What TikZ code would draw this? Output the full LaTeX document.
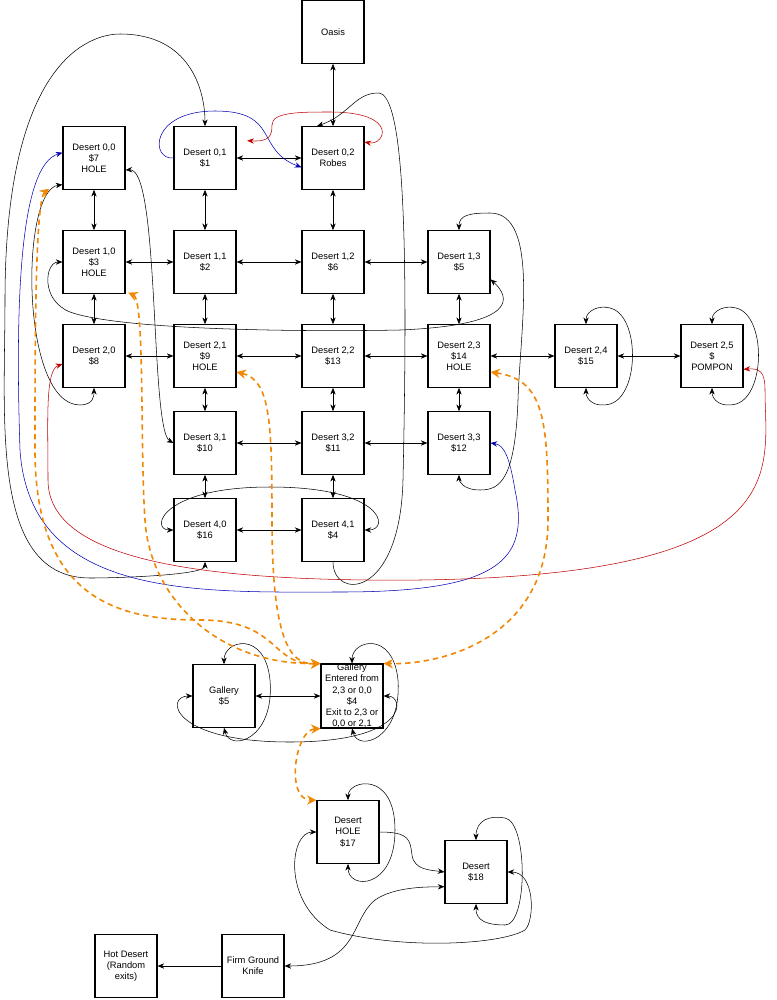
\documentclass[tikz,border=0pt]{standalone}
\usepackage{fontspec}
\setmainfont{Liberation Sans}
\usetikzlibrary{arrows.meta}
\definecolor{org}{HTML}{F08705}
\begin{document}
\begin{tikzpicture}[x=0.75pt,y=-0.75pt,
  box/.style={draw,thick,minimum width=46.5pt,minimum height=47pt,inner sep=0pt,align=center,font=\fontsize{7}{8.4}\selectfont},
  ar/.style={-{Stealth[length=5pt,width=4pt]}},
  dar/.style={{Stealth[length=5pt,width=4pt]}-{Stealth[length=5pt,width=4pt]}},
  od/.style={draw=org,line width=1.2pt,dash pattern=on 4pt off 3pt},
  oar/.style={od,{Stealth[length=7pt,width=7pt]}-{Stealth[length=7pt,width=7pt]}},
  bl/.style={draw=blue!70!black},
  rd/.style={draw=red!75!black}]
\useasboundingbox (0,0) rectangle (777,1000);
\node[box] (oasis) at (333,32) {Oasis};
\node[box] (d00) at (94,158) {Desert 0,0\\\$7\\HOLE};
\node[box] (d01) at (205,158) {Desert 0,1\\\$1};
\node[box] (d02) at (333,158) {Desert 0,2\\Robes};
\node[box] (d10) at (94,262) {Desert 1,0\\\$3\\HOLE};
\node[box] (d11) at (205,262) {Desert 1,1\\\$2};
\node[box] (d12) at (333,262) {Desert 1,2\\\$6};
\node[box] (d13) at (459,262) {Desert 1,3\\\$5};
\node[box] (d20) at (94,356) {Desert 2,0\\\$8};
\node[box] (d21) at (205,356) {Desert 2,1\\\$9\\HOLE};
\node[box] (d22) at (333,356) {Desert 2,2\\\$13};
\node[box] (d23) at (459,356) {Desert 2,3\\\$14\\HOLE};
\node[box] (d24) at (586,356) {Desert 2,4\\\$15};
\node[box] (d25) at (712,356) {Desert 2,5\\\$\\POMPON};
\node[box] (d31) at (205,443) {Desert 3,1\\\$10};
\node[box] (d32) at (333,443) {Desert 3,2\\\$11};
\node[box] (d33) at (459,443) {Desert 3,3\\\$12};
\node[box] (d40) at (205,530) {Desert 4,0\\\$16};
\node[box] (d41) at (333,530) {Desert 4,1\\\$4};
\node[box] (g1) at (224,696) {Gallery\\\$5};
\node[box] (g2) at (352,696) {Gallery\\Entered from\\2,3 or 0,0\\\$4\\Exit to 2,3 or\\0,0 or 2,1};
\node[box] (h17) at (348,832) {Desert\\HOLE\\\$17};
\node[box] (d18) at (476,872) {Desert\\\$18};
\node[box] (firm) at (253,966) {Firm Ground\\Knife};
\node[box] (hot) at (126,966) {Hot Desert\\(Random\\exits)};
% straight
\foreach \a/\b in {oasis/d02,d00/d10,d10/d20,d01/d11,d02/d12,d11/d21,d12/d22,d13/d23,d21/d31,d22/d32,d23/d33,d31/d40,d32/d41}
  \draw[dar] (\a.south) -- (\b.north);
\foreach \a/\b in {d01/d02,d10/d11,d11/d12,d12/d13,d20/d21,d21/d22,d22/d23,d23/d24,d24/d25,d31/d32,d32/d33,d40/d41,g1/g2}
  \draw[dar] (\a.east) -- (\b.west);
\draw[ar] (firm.west) -- (hot.east);
% curves
\draw[dar] (d40.south) .. controls (205,575) and (120,578) .. (90,578) .. controls (-10,578) and (5,420) .. (5,300) .. controls (5,60) and (90,34) .. (120,34) .. controls (190,34) and (205,90) .. (d01.north);
\draw[ar,bl] (d01.west) .. controls (150,160) and (150,111) .. (215,111) .. controls (280,111) and (255,150) .. ([yshift=-7pt]d02.west);
\draw[dar,rd] ([xshift=8pt,yshift=13pt]d01.east) .. controls (270,142) and (272,135) .. (272,125) .. controls (272,112) and (300,112) .. (330,112) .. controls (400,112) and (385,146) .. ([yshift=12pt]d02.east);
\draw[ar] (d41.south) .. controls (333,600) and (400,600) .. (403,480) .. controls (408,250) and (405,92) .. (378,93) .. controls (355,93) and (349,115) .. ([xshift=-12pt]d02.north);
\draw[dar] (d10.west) .. controls (45,262) and (40,300) .. (70,312) .. controls (120,330) and (300,332) .. (400,330) .. controls (520,325) and (510,297) .. ([yshift=-13pt]d13.east);
\draw[dar] ([yshift=-9pt]d00.east) .. controls (160,168) and (150,430) .. (d31.west);
\draw[dar] ([yshift=-20pt]d00.west) .. controls (20,190) and (20,405) .. (80,405) .. controls (94,405) and (94,395) .. (d20.south);
\draw[dar,bl] ([yshift=4pt]d00.west) .. controls (20,165) and (15,300) .. (20,450) .. controls (30,600) and (200,592) .. (340,592) .. controls (500,592) and (530,560) .. (515,490) .. controls (510,460) and (505,445) .. (d33.east);
\draw[dar,rd] ([yshift=-6pt]d20.west) .. controls (45,370) and (48,420) .. (48,480) .. controls (48,560) and (200,582) .. (420,580) .. controls (800,575) and (765,470) .. (765,390) .. controls (765,372) and (760,368) .. ([yshift=-10pt]d25.east);
\draw[dar] (d13.north) .. controls (459,215) and (470,213) .. (490,213) .. controls (540,213) and (520,330) .. (518,400) .. controls (515,480) and (500,490) .. (480,490) .. controls (462,490) and (459,480) .. (d33.south);
\draw[dar] (d24.north) .. controls (586,310) and (600,305) .. (610,308) .. controls (640,315) and (640,395) .. (610,404) .. controls (595,408) and (586,400) .. (d24.south);
\draw[dar] (d25.north) .. controls (712,310) and (726,305) .. (736,308) .. controls (766,315) and (766,395) .. (736,404) .. controls (721,408) and (712,400) .. (d25.south);
\draw[dar] (d40.west) .. controls (150,530) and (160,487) .. (270,487) .. controls (385,487) and (390,530) .. (d41.east);
\draw[dar] (g1.north) .. controls (224,640) and (265,630) .. (270,680) .. controls (275,740) and (230,752) .. (g1.south);
\draw[dar] (g2.north) .. controls (352,640) and (393,630) .. (398,680) .. controls (402,740) and (358,752) .. (g2.south);
\draw[dar] (g1.west) .. controls (165,696) and (170,742) .. (290,742) .. controls (410,742) and (405,696) .. (g2.east);
\draw[dar] (h17.north) .. controls (348,780) and (395,770) .. (395,830) .. controls (395,890) and (348,890) .. (h17.south);
\draw[ar] (h17.east) .. controls (410,832) and (410,840) .. (412,855) .. controls (414,870) and (430,870) .. (d18.west);
\draw[dar] (d18.north) .. controls (476,820) and (490,815) .. (505,818) .. controls (528,822) and (528,925) .. (505,925) .. controls (478,925) and (476,915) .. (d18.south);
\draw[dar] (h17.west) .. controls (290,832) and (282,900) .. (330,930) .. controls (400,950) and (500,945) .. (525,930) .. controls (535,920) and (535,872) .. (d18.east);
\draw[dar] (firm.east) .. controls (360,966) and (350,920) .. (375,900) .. controls (395,886) and (430,887) .. ([yshift=-11pt]d18.west);
% orange
\draw[oar] ([xshift=-10pt,yshift=-23pt]d00.west) .. controls (35,200) and (35,350) .. (35,450) .. controls (35,600) and (120,620) .. (200,620) .. controls (280,620) and (270,665) .. (g2.north west);
\draw[oar] ([yshift=-23pt,xshift=2pt]d10.east) .. controls (145,300) and (140,450) .. (145,520) .. controls (150,600) and (220,665) .. (g2.north west);
\draw[oar] ([yshift=-12pt]d21.east) .. controls (270,380) and (272,420) .. (272,520) .. controls (272,640) and (290,665) .. (g2.north west);
\draw[oar] ([yshift=-12pt]d23.east) .. controls (545,380) and (548,420) .. (548,520) .. controls (548,640) and (440,665) .. (g2.north east);
\draw[oar] (g2.south west) .. controls (295,730) and (285,800) .. (h17.north west);
\end{tikzpicture}
\end{document}
